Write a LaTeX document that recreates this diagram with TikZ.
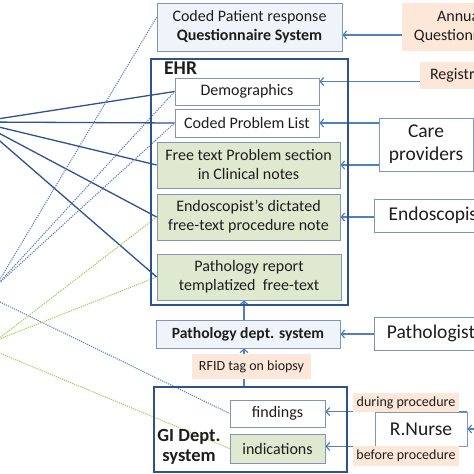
\documentclass[tikz,border=0pt]{standalone}
\usepackage{fontspec}
\setmainfont{Carlito}
\usepackage{xcolor}
\usepackage{tikz}
\usetikzlibrary{arrows.meta}
\pgfdeclarelayer{background}
\pgfsetlayers{background,main}
\definecolor{ink}{RGB}{30,30,30}
\definecolor{ehrblue}{RGB}{47,82,143}
\definecolor{boxline}{RGB}{130,150,178}
\definecolor{feedblue}{RGB}{79,129,189}
\definecolor{dotblue}{RGB}{95,125,185}
\definecolor{dotgreen}{RGB}{170,200,90}
\definecolor{paleblue}{RGB}{239,244,250}
\definecolor{palegreen}{RGB}{222,233,208}
\definecolor{peach}{RGB}{252,231,216}
\begin{document}
\begin{tikzpicture}[x=1pt,y=-1pt,
  every node/.style={text=ink},
  sysbox/.style={draw=boxline,line width=0.8pt,inner sep=0pt,align=center,font=\fontsize{16}{19}\selectfont},
  bluebox/.style={sysbox,fill=paleblue},
  greenbox/.style={sysbox,fill=palegreen},
  whitebox/.style={sysbox,fill=white},
  tagbox/.style={fill=peach,inner sep=0pt,align=center,font=\fontsize{14}{17}\selectfont},
  actor/.style={whitebox,font=\fontsize{19.5}{23}\selectfont},
  frame/.style={draw=ehrblue,line width=1.6pt,inner sep=0pt},
  codeline/.style={draw=ehrblue,line width=1.3pt},
  bluedots/.style={draw=dotblue,line width=1.1pt,dash pattern=on 1.1pt off 1.1pt},
  greendots/.style={draw=dotgreen,line width=1.1pt,dash pattern=on 1.1pt off 1.1pt},
  feed/.style={draw=feedblue,line width=1.2pt,-{Straight Barb[length=3.5pt,width=8pt]}},
]
\useasboundingbox (0,0) rectangle (474,474);
% questionnaire
\node[bluebox,minimum width=185pt,minimum height=48pt] (coded) at (249.5,27) {Coded Patient response\\\textbf{Questionnaire System}};
\node[tagbox,font=\fontsize{16}{19}\selectfont,minimum width=116pt,minimum height=48pt] (annual) at (460,27) {Annual\\Questionnaire};
% EHR
\node[frame,minimum width=197pt,minimum height=246pt] (ehr) at (249.5,182) {};
\node[font=\bfseries\fontsize{19.5}{23}\selectfont,anchor=west,inner sep=0pt] (ehrlabel) at (164,68) {EHR};
\node[whitebox,minimum width=144pt,minimum height=27pt] (demo) at (247,91.5) {Demographics};
\node[whitebox,minimum width=144pt,minimum height=28pt] (cpl) at (247,123) {Coded Problem List};
\node[greenbox,minimum width=183pt,minimum height=46pt] (freetext) at (248.5,165) {Free text Problem section\\in Clinical notes};
\node[greenbox,minimum width=183pt,minimum height=46pt] (endonote) at (248.5,217) {Endoscopist’s dictated\\free-text procedure note};
\node[greenbox,minimum width=184pt,minimum height=46pt] (pathrep) at (249,277) {Pathology report\\templatized~ free-text};
% pathology
\node[bluebox,minimum width=184pt,minimum height=28pt,font=\bfseries\fontsize{15.6}{18.5}\selectfont] (pathsys) at (248,334) {Pathology dept. system};
% GI
\node[frame,minimum width=193pt,minimum height=85pt] (gi) at (250.5,429.5) {};
\node[font=\bfseries\fontsize{18.5}{20.5}\selectfont,align=center,inner sep=0pt] (gilabel) at (189,447) {GI Dept.\\system};
\node[whitebox,minimum width=95pt,minimum height=27pt] (findings) at (277.5,413.5) {findings};
\node[greenbox,minimum width=95pt,minimum height=29pt] (indications) at (277.5,448.5) {indications};
% sources on the right
\node[tagbox,font=\fontsize{16}{19}\selectfont,minimum width=72pt,minimum height=27pt] (registry) at (456,75.5) {Registry};
\node[actor,minimum width=94pt,minimum height=53pt] (care) at (426,144.5) {Care\\providers};
\node[actor,minimum width=124pt,minimum height=33pt] (endoscopist) at (436,215.5) {Endoscopist};
\node[actor,minimum width=114pt,minimum height=33pt] (pathologist) at (431,333.5) {Pathologist};
\node[actor,minimum width=92pt,minimum height=34pt] (nurse) at (421,429) {R.Nurse};
\node[tagbox,minimum width=106pt,minimum height=19pt] (during) at (406,402.5) {during procedure};
\node[tagbox,minimum width=106pt,minimum height=20pt] (before) at (406,456) {before procedure};

\coordinate (hub) at (-22,122);
\coordinate (bluehub) at (-4,286);
\coordinate (bluestart) at (-2,301);
\coordinate (greenhub) at (-3,340);
\coordinate (greenstart) at (-3,352);
\coordinate (offright) at (485,429);

\begin{pgfonlayer}{background}
% coded data
\draw[codeline] (hub) -- (demo.west);
\draw[codeline] (hub) -- (cpl.west);
\draw[codeline] (hub) -- (freetext.west);
\draw[codeline] (hub) -- (endonote.west);
\draw[codeline] (hub) -- (pathrep.west);
\draw[bluedots] (bluehub) -- (coded.174);
\draw[bluedots] (bluehub) -- (demo.west);
\draw[bluedots] (bluehub) -- (cpl.west);
\draw[bluedots] (bluestart) -- (findings.west);
\draw[greendots] (greenhub) -- (endonote.west);
\draw[greendots] (greenhub) -- (pathrep.west);
\draw[greendots] (greenstart) -- (indications.west);
% feeds
\draw[feed] ([yshift=-8pt]annual.west) -- ([yshift=-8pt]coded.east);
\draw[feed] ([yshift=-6pt]registry.west) -- ([yshift=10pt]demo.east);
\draw[feed] (care.west |- cpl.east) -- (cpl.east);
\draw[feed] (care.west |- freetext.east) -- (freetext.east);
\draw[feed] (endoscopist.west |- endonote.east) -- (endonote.east);
\draw[feed] (pathologist.west |- pathsys.east) -- (pathsys.east);
\draw[feed] ([xshift=-4pt]pathsys.north) -- ([xshift=-5pt]pathrep.south);
\draw[feed] ([xshift=-6.5pt]gi.north) -- ([xshift=-4pt]pathsys.south);
\draw[feed] (nurse.north east) -- (nurse.north east -| findings.east);
\draw[feed] (nurse.south east) -- (nurse.south east -| indications.east);
\draw[feed] (offright) -- (nurse.east);
\end{pgfonlayer}
\node[tagbox,minimum width=119pt,minimum height=25pt] (rfid) at (251.5,366.5) {RFID tag on biopsy};
\end{tikzpicture}
\end{document}
